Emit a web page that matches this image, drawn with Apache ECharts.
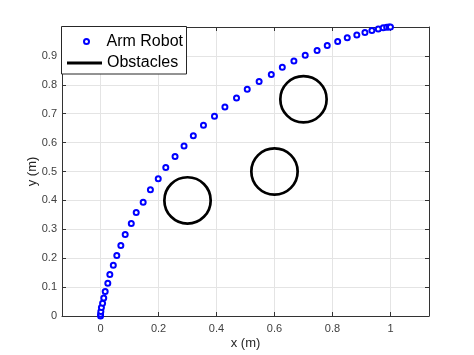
<!DOCTYPE html>
<html>
<head>
<meta charset="utf-8">
<script src="https://cdn.jsdelivr.net/npm/echarts@6/dist/echarts.min.js"></script>
<style>html,body{margin:0;padding:0;background:#fff}#c{width:474px;height:355px}</style>
</head>
<body>
<div id="c"></div>
<script>
// Arm robot trajectory points
var armX = [0, 0, 0.001, 0.003, 0.007, 0.011, 0.016, 0.025, 0.032, 0.044, 0.056, 0.070, 0.085, 0.106, 0.123, 0.147, 0.172, 0.199, 0.225, 0.257, 0.288, 0.320, 0.355, 0.393, 0.429, 0.469, 0.506, 0.547, 0.589, 0.627, 0.667, 0.706, 0.747, 0.782, 0.818, 0.851, 0.884, 0.912, 0.936, 0.958, 0.975, 0.987, 0.995, 1.0];
var armY = [0, 0.006, 0.016, 0.029, 0.044, 0.062, 0.085, 0.113, 0.144, 0.176, 0.209, 0.244, 0.282, 0.320, 0.358, 0.394, 0.437, 0.475, 0.514, 0.552, 0.588, 0.624, 0.660, 0.691, 0.723, 0.754, 0.785, 0.811, 0.836, 0.861, 0.882, 0.902, 0.919, 0.936, 0.950, 0.963, 0.972, 0.981, 0.988, 0.993, 0.997, 0.999, 1.0, 1.0];
// Obstacles: centers and radii
var obsX = [0.3, 0.6, 0.7];
var obsY = [0.4, 0.5, 0.75];
var obsR = [0.08, 0.08, 0.08];
// Tick values
var xTicks = [0, 0.2, 0.4, 0.6, 0.8, 1];
var xMin = -0.133, xMax = 1.133, xStep = 0.2;
var yMin = 0, yMax = 1, yStep = 0.1;

var armData = armX.map(function (x, i) { return [x, armY[i]]; });
var obsData = obsX.map(function (x, i) { return [x, obsY[i], obsR[i]]; });

var FONT = "'Liberation Sans', Arial, Helvetica, sans-serif";
var AX = '#333333';
var GRID = '#e4e4e4';

function xAxisBase(pos) {
  return {
    type: 'value', min: xMin, max: xMax, position: pos,
    minInterval: xStep, maxInterval: xStep, splitNumber: 6,
    axisLine: { show: true, onZero: false, lineStyle: { color: AX, width: 1 } },
    axisTick: { show: true, inside: true, length: 4, lineStyle: { color: AX }, customValues: xTicks }
  };
}
function yAxisBase(pos) {
  return {
    type: 'value', min: yMin, max: yMax, interval: yStep, position: pos,
    axisLine: { show: true, onZero: false, lineStyle: { color: AX, width: 1 } },
    axisTick: { show: true, inside: true, length: 4, lineStyle: { color: AX } }
  };
}

var xb = xAxisBase('bottom');
xb.name = 'x (m)'; xb.nameLocation = 'middle'; xb.nameGap = 21; xb.nameMoveOverlap = false;
xb.nameTextStyle = { fontFamily: FONT, fontSize: 13, color: '#262626' };
xb.axisLabel = { customValues: xTicks, fontFamily: FONT, fontSize: 11, color: '#404040', margin: 7 };
xb.splitLine = { show: true, lineStyle: { color: GRID, width: 1 } };
var xt = xAxisBase('top');
xt.axisLabel = { show: false, customValues: xTicks };
xt.splitLine = { show: false };

var yl = yAxisBase('left');
yl.name = 'y (m)'; yl.nameLocation = 'middle'; yl.nameGap = 23; yl.nameRotate = 90; yl.nameMoveOverlap = false;
yl.nameTextStyle = { fontFamily: FONT, fontSize: 13, color: '#262626' };
yl.axisLabel = {
  fontFamily: FONT, fontSize: 11, color: '#404040', margin: 5,
  formatter: function (v) { return v >= 1 ? '' : String(Math.round(v * 10) / 10); }
};
yl.splitLine = { show: true, lineStyle: { color: GRID, width: 1 } };
var yr = yAxisBase('right');
yr.axisLabel = { show: false };
yr.splitLine = { show: false };

var chart = echarts.init(document.getElementById('c'), null, { renderer: 'canvas' });
chart.setOption({
  backgroundColor: '#fff',
  animation: false,
  grid: { left: 62, right: 45, top: 27, bottom: 39, containLabel: false, outerBoundsMode: 'none' },
  xAxis: [xb, xt],
  yAxis: [yl, yr],
  graphic: [{
    type: 'rect', z: 3,
    shape: { x: 61.5, y: 26.5, width: 125, height: 47.5 },
    style: { fill: '#fff', stroke: '#262626', lineWidth: 1 }
  }],
  legend: [{
    z: 5, left: 83, top: 33.5, padding: 0, itemWidth: 30, itemHeight: 5, selectedMode: false,
    textStyle: { fontFamily: FONT, fontSize: 16, color: '#000' },
    data: [{ name: 'Arm Robot', icon: 'circle', itemStyle: { color: '#fff', borderColor: '#0000ff', borderWidth: 2 } }]
  }, {
    z: 5, left: 67, top: 55, padding: 0, itemWidth: 35, itemHeight: 3, selectedMode: false,
    textStyle: { fontFamily: FONT, fontSize: 16, color: '#000' },
    data: [{ name: 'Obstacles', icon: 'rect', itemStyle: { color: '#000', borderWidth: 0 } }]
  }],
  series: [{
    name: 'Obstacles', type: 'custom', xAxisIndex: 0, yAxisIndex: 0,
    itemStyle: { color: '#000' },
    encode: { x: 0, y: 1 },
    renderItem: function (params, api) {
      var c = api.coord([api.value(0), api.value(1)]);
      var s = api.size([api.value(2), api.value(2)]);
      return {
        type: 'circle',
        shape: { cx: c[0], cy: c[1], r: (s[0] + s[1]) / 2 },
        style: { fill: 'none', stroke: '#000', lineWidth: 2.7 }
      };
    },
    data: obsData
  }, {
    name: 'Arm Robot', type: 'scatter', xAxisIndex: 0, yAxisIndex: 0,
    symbol: 'circle', symbolSize: 5,
    itemStyle: { color: '#fff', borderColor: '#0000ff', borderWidth: 2, opacity: 1 },
    z: 2,
    data: armData
  }]
});
</script>
</body>
</html>
